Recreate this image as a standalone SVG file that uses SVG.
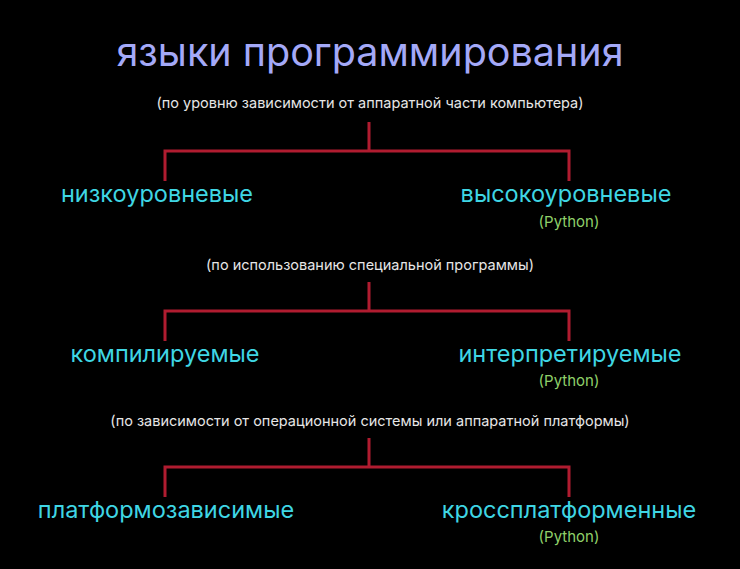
<svg xmlns="http://www.w3.org/2000/svg" width="740" height="569" viewBox="0 0 740 569">
<style>
text{font-family:Inter,Roboto,"Noto Sans",sans-serif;text-anchor:middle}
.t{font-size:39.5px;fill:#a4a9f8}
.s{font-size:14.5px;fill:#e6e6e6}
.n{font-size:23.5px;fill:#3fd6e4}
.p{font-size:15px;fill:#8fd06a}
.c{fill:none;stroke:#b01c30;stroke-width:3}
</style>
<rect width="740" height="569" fill="#000"/>
<text class="t" x="370" y="66">языки программирования</text>
<text class="s" x="370" y="108">(по уровню зависимости от аппаратной части компьютера)</text>
<text class="s" x="370" y="270">(по использованию специальной программы)</text>
<text class="s" x="370" y="426">(по зависимости от операционной системы или аппаратной платформы)</text>
<g id="connectors">
<path class="c" d="M369 122V151M165 181V151H569V181"/>
<path class="c" d="M369 282V311M165 341V311H569V341"/>
<path class="c" d="M369 438V467M165 497V467H569V497"/>
</g>
<g id="n1"><text class="n" x="157" y="202">низкоуровневые</text></g>
<g id="n2"><text class="n" x="566" y="202">высокоуровневые</text><text class="p" x="569" y="227">(Python)</text></g>
<g id="n3"><text class="n" x="165" y="362">компилируемые</text></g>
<g id="n4"><text class="n" x="570" y="362">интерпретируемые</text><text class="p" x="569" y="386">(Python)</text></g>
<g id="n5"><text class="n" x="166" y="518">платформозависимые</text></g>
<g id="n6"><text class="n" x="569" y="518">кроссплатформенные</text><text class="p" x="569" y="542">(Python)</text></g>
</svg>
